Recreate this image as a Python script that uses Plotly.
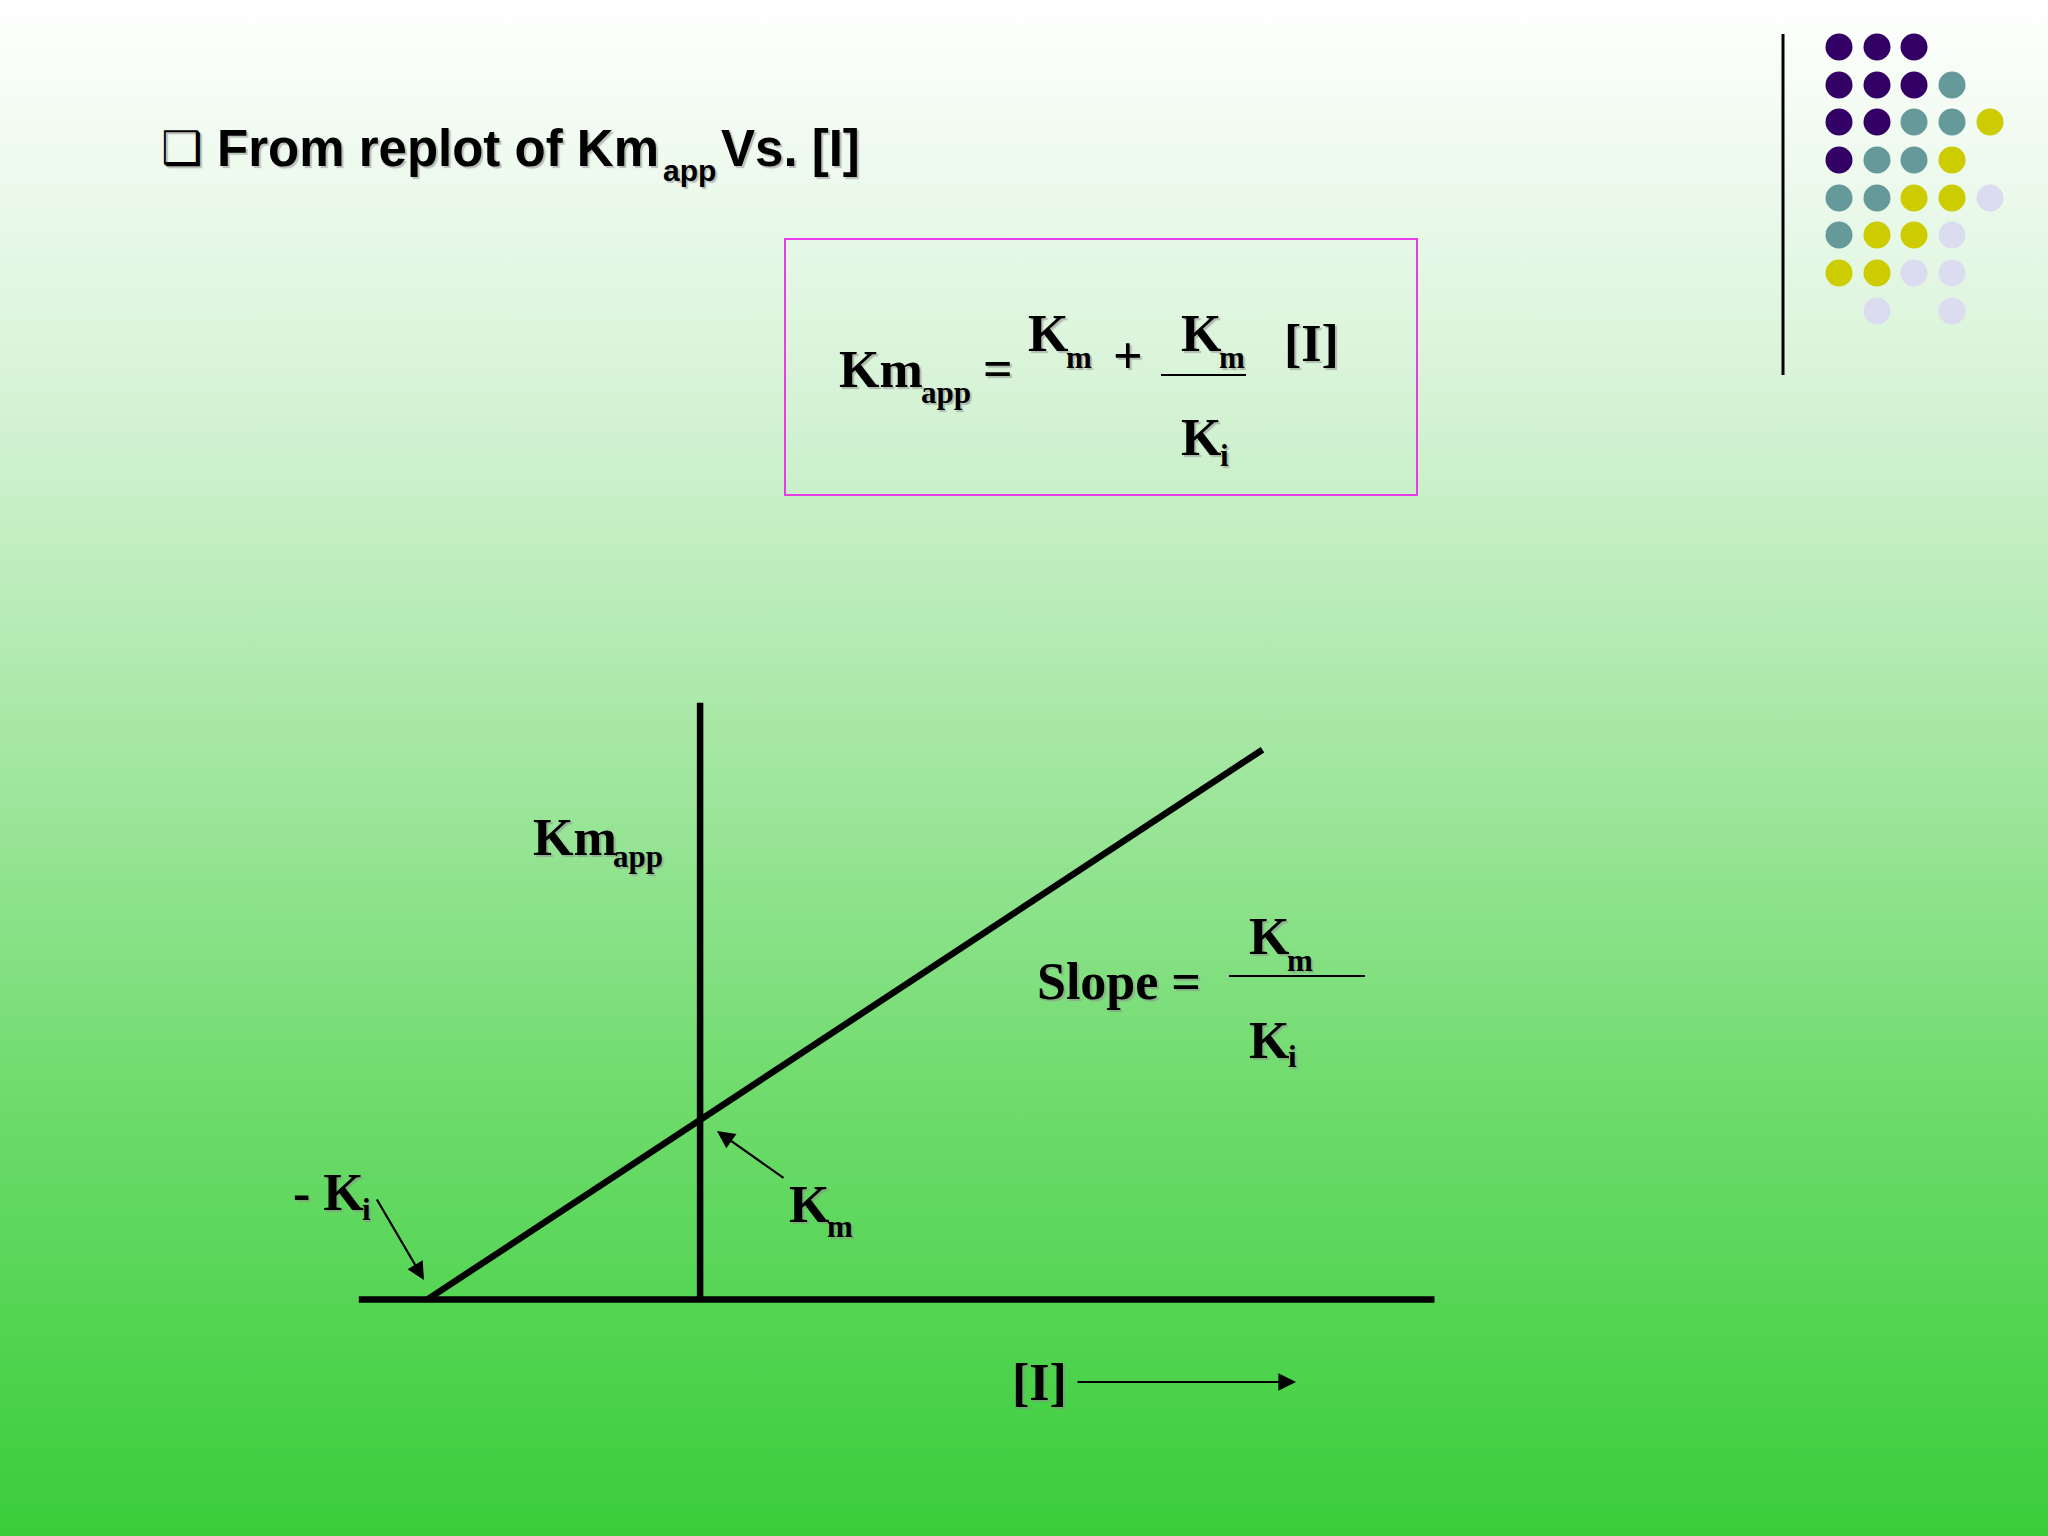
import base64
import plotly.graph_objects as go

# ---- data (Km = 1, Ki = 1 units) ----
inhibitor_conc = [-1.0, 0.0, 2.06]      # [I]
km_app_values = [0.0, 1.0, 3.05]        # Km_app
x_axis_span = [-1.25, 2.69]
y_axis_span = [0.0, 3.31]

# decorative dot grid (top right), colour codes per row
dot_rows = ["PPP..", "PPPT.", "PPTTY", "PTTY.", "TTYYL", "TYYL.", "YYLL.", ".L.L."]
dot_colors = {"P": "#330066", "T": "#669999", "Y": "#cccc00", "L": "#dcdcf0"}
dot_cols_px = [1839, 1877, 1914, 1952, 1990]
dot_rows_px = [47, 85, 122, 160, 198, 235, 273, 311]

W, H = 2048, 1536

# background gradient as svg image
svg = f'''<svg xmlns="http://www.w3.org/2000/svg" width="{W}" height="{H}">
<defs><linearGradient id="g" x1="0" y1="0" x2="0" y2="1">
<stop offset="0" stop-color="#ffffff"/>
<stop offset="0.26" stop-color="#d6f3d6"/>
<stop offset="0.49" stop-color="#a4e7a2"/>
<stop offset="0.72" stop-color="#6ddb6b"/>
<stop offset="1" stop-color="#3acd3a"/>
</linearGradient></defs>
<rect width="{W}" height="{H}" fill="url(#g)"/></svg>'''
bg_uri = "data:image/svg+xml;base64," + base64.b64encode(svg.encode()).decode()

fig = go.Figure()

# axes of the sketch
fig.add_trace(go.Scatter(x=x_axis_span, y=[0, 0], mode="lines",
                         line=dict(color="black", width=6.5), hoverinfo="skip"))
fig.add_trace(go.Scatter(x=[0, 0], y=y_axis_span, mode="lines",
                         line=dict(color="black", width=6.5), hoverinfo="skip"))
# replot line
fig.add_trace(go.Scatter(x=inhibitor_conc, y=km_app_values, mode="lines",
                         line=dict(color="black", width=6.5), hoverinfo="skip"))

# decorative dots on pixel axes
dx, dy, dc = [], [], []
for r, row in enumerate(dot_rows):
    for c, ch in enumerate(row):
        if ch != ".":
            dx.append(dot_cols_px[c]); dy.append(dot_rows_px[r]); dc.append(dot_colors[ch])
fig.add_trace(go.Scatter(x=dx, y=dy, mode="markers", xaxis="x2", yaxis="y2",
                         marker=dict(size=27, color=dc, line=dict(width=0)),
                         hoverinfo="skip"))

SH = "2px 2px 1px rgba(140,140,140,0.55)"
anns = []


def txt(t, x, y, size, family="Liberation Serif", xanchor="left", shadow=SH):
    anns.append(dict(text=t, x=x, y=y, xref="x2", yref="y2", showarrow=False,
                     xanchor=xanchor, yanchor="middle", borderpad=0,
                     font=dict(family=family, size=size, color="black",
                               weight="bold", shadow=shadow)))


def arrow(x0, y0, x1, y1, width=2.2):
    anns.append(dict(text="", x=x1, y=y1, ax=x0, ay=y0, xref="x2", yref="y2",
                     axref="x2", ayref="y2", showarrow=True, arrowhead=2,
                     arrowsize=1.6, arrowwidth=width, arrowcolor="black",
                     standoff=0, startstandoff=0))


# title
txt("❑", 160, 148, 46, family="DejaVu Sans")
txt("From replot of Km", 216, 148, 51, family="Liberation Sans")
txt("app", 662, 170, 30, family="Liberation Sans")
txt("Vs. [I]", 720, 148, 51, family="Liberation Sans")

# formula in box
FS = 52
SS = 31
txt("Km", 838, 369, FS)
txt("app", 920, 392, SS)
txt("=", 982, 368, FS)
txt("K", 1027, 333, FS)
txt("m", 1065, 357, SS)
txt("+", 1112, 355, FS)
txt("K", 1180, 333, FS)
txt("m", 1218, 357, SS)
txt("K", 1180, 437, FS)
txt("i", 1219, 455, SS)
txt("[I]", 1283, 343, FS)

# slope
txt("Slope =", 1036, 981, FS)
txt("K", 1248, 936, FS)
txt("m", 1286, 960, SS)
txt("K", 1248, 1040, FS)
txt("i", 1287, 1056, SS)

# graph labels
txt("Km", 532, 837, FS)
txt("app", 612, 856, SS)
txt("- K", 292, 1192, FS)
txt("i", 361, 1209, SS)
txt("K", 788, 1204, FS)
txt("m", 826, 1226, SS)
txt("[I]", 1011, 1382, FS)

arrow(785, 1179, 717, 1131)
arrow(376, 1198, 424, 1280)
arrow(1076, 1382, 1296, 1382)

shapes = [
    dict(type="rect", xref="x2", yref="y2", x0=785, x1=1417, y0=239, y1=495,
         line=dict(color="#e83ce8", width=2), fillcolor="rgba(0,0,0,0)"),
    dict(type="line", xref="x2", yref="y2", x0=1161, x1=1246, y0=375, y1=375,
         line=dict(color="black", width=2)),
    dict(type="line", xref="x2", yref="y2", x0=1229, x1=1365, y0=976, y1=976,
         line=dict(color="black", width=2)),
    dict(type="line", xref="x2", yref="y2", x0=1783, x1=1783, y0=34, y1=375,
         line=dict(color="black", width=3)),
]

# data->pixel mapping: x=-1 at 427px, x=0 at 700px; y=0 at 1300px, y=1 at 1119px
xr = [-700.1 / 273.0, (W - 700.1) / 273.0]
yr = [-(H - 1299.6) / 180.3, 1299.6 / 180.3]

fig.update_layout(
    width=W, height=H, margin=dict(l=0, r=0, t=0, b=0),
    paper_bgcolor="white", plot_bgcolor="rgba(0,0,0,0)", showlegend=False,
    xaxis=dict(range=xr, visible=False, fixedrange=True),
    yaxis=dict(range=yr, visible=False, fixedrange=True),
    xaxis2=dict(range=[0, W], overlaying="x", visible=False, fixedrange=True),
    yaxis2=dict(range=[H, 0], overlaying="y", visible=False, fixedrange=True),
    images=[dict(source=bg_uri, xref="paper", yref="paper", x=0, y=1,
                 sizex=1, sizey=1, sizing="stretch", layer="below",
                 xanchor="left", yanchor="top")],
    annotations=anns, shapes=shapes,
)

fig.write_html("out.html", config={"displayModeBar": False},
               post_script="document.body.style.margin='0';document.body.style.overflow='hidden';")
